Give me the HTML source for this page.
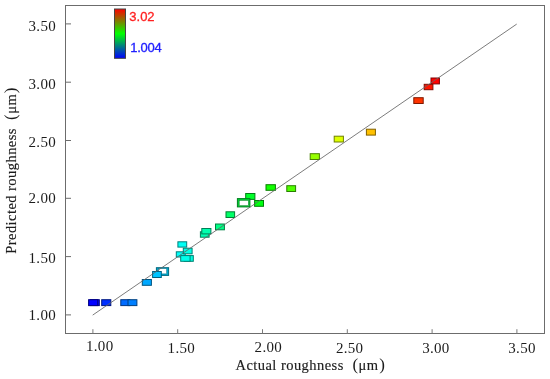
<!DOCTYPE html>
<html><head><meta charset="utf-8"><title>Predicted vs actual roughness</title>
<style>
html,body{margin:0;padding:0;background:#fff;}
svg{display:block}
.t text{font-family:"Liberation Serif","Noto Serif CJK SC",serif;font-size:15px;fill:#1c1c1c;letter-spacing:0.3px}
.lg{font-family:"Liberation Sans",sans-serif;font-size:13px;stroke-width:0.3px}
</style></head><body>
<svg width="550" height="379" viewBox="0 0 550 379">
<defs><linearGradient id="cb" x1="0" y1="0" x2="0" y2="1">
<stop offset="0" stop-color="#ff0000"/><stop offset="0.5" stop-color="#00ff00"/><stop offset="1" stop-color="#0000ff"/>
</linearGradient></defs>
<rect width="550" height="379" fill="#fff"/>
<rect x="65.5" y="5.5" width="479.0" height="328.0" fill="none" stroke="#6c6c6c" stroke-width="1"/>
<g stroke="#6c6c6c" stroke-width="1">
<line x1="92.9" y1="329.2" x2="92.9" y2="333.5" stroke="#7a7a7a"/>
<line x1="65.5" y1="314.9" x2="71" y2="314.9"/>
<line x1="177.7" y1="329.2" x2="177.7" y2="333.5" stroke="#7a7a7a"/>
<line x1="65.5" y1="256.6" x2="71" y2="256.6"/>
<line x1="262.5" y1="329.2" x2="262.5" y2="333.5" stroke="#7a7a7a"/>
<line x1="65.5" y1="198.3" x2="71" y2="198.3"/>
<line x1="347.3" y1="329.2" x2="347.3" y2="333.5" stroke="#7a7a7a"/>
<line x1="65.5" y1="140.5" x2="71" y2="140.5"/>
<line x1="432.1" y1="329.2" x2="432.1" y2="333.5" stroke="#7a7a7a"/>
<line x1="65.5" y1="82.2" x2="71" y2="82.2"/>
<line x1="516.9" y1="329.2" x2="516.9" y2="333.5" stroke="#7a7a7a"/>
<line x1="65.5" y1="23.9" x2="71" y2="23.9"/>
</g>
<g>
<rect x="90.3" y="299.7" width="9.0" height="5.9" fill="#0006ff" stroke="#000380" stroke-width="1"/>
<rect x="88.6" y="299.7" width="9.1" height="5.9" fill="#0000ff" stroke="#000080" stroke-width="1"/>
<rect x="101.7" y="299.7" width="9.1" height="5.9" fill="#0030ff" stroke="#001880" stroke-width="1"/>
<rect x="120.8" y="299.7" width="9.0" height="5.9" fill="#006bff" stroke="#003580" stroke-width="1"/>
<rect x="128.0" y="299.7" width="8.9" height="5.9" fill="#007fff" stroke="#004080" stroke-width="1"/>
<rect x="142.3" y="279.5" width="9.1" height="5.8" fill="#00a8ff" stroke="#005480" stroke-width="1"/>
<rect x="156.4" y="267.7" width="12.2" height="7.7" fill="#00a9cc" stroke="#006980" stroke-width="1"/>
<rect x="158.4" y="268.6" width="8.3" height="5.3" fill="#fff" stroke="#006980" stroke-width="0.5"/>
<rect x="152.6" y="271.5" width="8.7" height="6.0" fill="#00c4ff" stroke="#006280" stroke-width="1"/>
<rect x="177.9" y="241.8" width="8.8" height="5.3" fill="#00fff5" stroke="#00807b" stroke-width="1"/>
<rect x="176.3" y="251.8" width="8.9" height="5.2" fill="#00fffa" stroke="#00807d" stroke-width="1"/>
<rect x="183.3" y="248.2" width="8.8" height="5.6" fill="#00ffe5" stroke="#008073" stroke-width="1"/>
<rect x="184.2" y="255.6" width="9.1" height="5.7" fill="#00ffe2" stroke="#008071" stroke-width="1"/>
<rect x="180.7" y="255.6" width="9.4" height="5.7" fill="#00ffec" stroke="#008076" stroke-width="1"/>
<rect x="200.4" y="231.8" width="8.7" height="5.4" fill="#00ffb2" stroke="#008059" stroke-width="1"/>
<rect x="201.8" y="228.5" width="9.1" height="5.4" fill="#00ffae" stroke="#008057" stroke-width="1"/>
<rect x="215.5" y="224.0" width="8.9" height="5.8" fill="#00ff85" stroke="#008043" stroke-width="1"/>
<rect x="226.0" y="211.8" width="8.6" height="5.7" fill="#00ff66" stroke="#008033" stroke-width="1"/>
<rect x="245.7" y="193.5" width="9.2" height="5.9" fill="#00ff2a" stroke="#008015" stroke-width="1"/>
<rect x="237.4" y="198.6" width="12.5" height="8.3" fill="#00cc32" stroke="#00801f" stroke-width="1"/>
<rect x="239.2" y="200.4" width="9.2" height="5.3" fill="#fff" stroke="#00801f" stroke-width="0.5"/>
<rect x="254.6" y="200.5" width="8.9" height="5.8" fill="#00ff10" stroke="#008008" stroke-width="1"/>
<rect x="266.0" y="184.7" width="9.4" height="5.6" fill="#12ff00" stroke="#098000" stroke-width="1"/>
<rect x="286.8" y="185.7" width="8.8" height="5.8" fill="#50ff00" stroke="#288000" stroke-width="1"/>
<rect x="310.2" y="153.7" width="9.2" height="5.8" fill="#96ff00" stroke="#4b8000" stroke-width="1"/>
<rect x="334.2" y="136.2" width="9.2" height="5.8" fill="#deff00" stroke="#6f8000" stroke-width="1"/>
<rect x="366.4" y="129.2" width="9.0" height="5.9" fill="#ffc100" stroke="#806000" stroke-width="1"/>
<rect x="413.8" y="97.7" width="9.4" height="5.8" fill="#ff3300" stroke="#801900" stroke-width="1"/>
<rect x="431.0" y="78.0" width="8.4" height="5.9" fill="#ff0100" stroke="#800000" stroke-width="1"/>
<rect x="424.2" y="84.3" width="8.7" height="5.4" fill="#ff1500" stroke="#800a00" stroke-width="1"/>
</g>
<line x1="92.7" y1="315.1" x2="516.7" y2="24.1" stroke="#646464" stroke-width="0.85"/>
<rect x="114.5" y="9" width="11" height="49.3" fill="url(#cb)" stroke="#444" stroke-width="1"/>
<text class="lg" x="129.3" y="21.4" fill="#ff2020" stroke="#ff2020">3.02</text>
<text class="lg" x="130.3" y="52.3" fill="#2020ff" stroke="#2020ff" style="letter-spacing:-0.3px">1.004</text>
<g class="t">
<text x="86.0" y="350.7">1.00</text>
<text x="167.6" y="352.6">1.50</text>
<text x="254.6" y="351.9">2.00</text>
<text x="335.9" y="352.7">2.50</text>
<text x="422.2" y="352.7">3.00</text>
<text x="508.3" y="352.6">3.50</text>
<text x="56" y="30.9" text-anchor="end">3.50</text>
<text x="56" y="88.6" text-anchor="end">3.00</text>
<text x="56" y="146.6" text-anchor="end">2.50</text>
<text x="56" y="202.9" text-anchor="end">2.00</text>
<text x="56" y="262.7" text-anchor="end">1.50</text>
<text x="56" y="320.3" text-anchor="end">1.00</text>
<text x="235.5" y="370.4" style="font-size:14.5px;letter-spacing:0.45px;stroke:#1c1c1c;stroke-width:0.15px">Actual roughness <tspan x="352.4" style="font-size:17px;stroke-width:0">(</tspan><tspan x="358.5">μm</tspan><tspan x="379.2" style="font-size:17px;stroke-width:0">)</tspan></text>
<text transform="translate(16.2,253.8) rotate(-90)" style="font-size:14.5px;letter-spacing:0.45px;stroke:#1c1c1c;stroke-width:0.15px">Predicted roughness <tspan x="133.8" style="font-size:17px;stroke-width:0">(</tspan><tspan x="140">μm</tspan><tspan x="160.6" style="font-size:17px;stroke-width:0">)</tspan></text>
</g>
</svg>
</body></html>
